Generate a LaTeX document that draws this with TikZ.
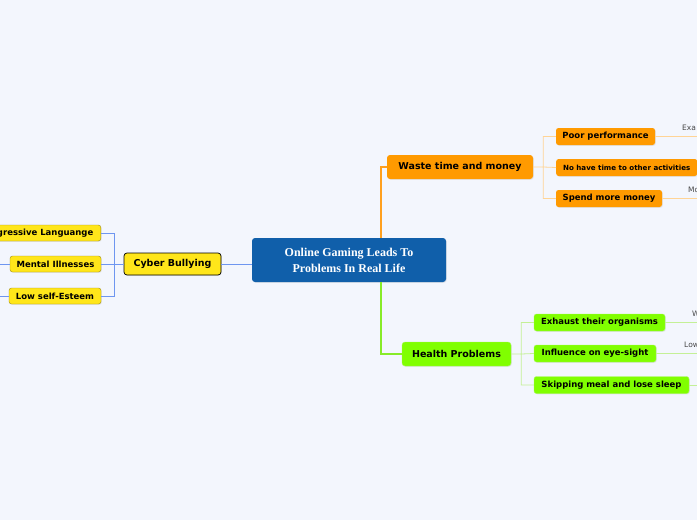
\documentclass[tikz,border=0pt]{standalone}
\usepackage{fontspec}
\setmainfont{DejaVu Sans}
\newfontfamily\titlefont{Liberation Serif}
\usetikzlibrary{calc,positioning,shadows}
\definecolor{PaperBlue}{RGB}{243,246,253}
\definecolor{CoreBlue}{RGB}{16,95,170}
\definecolor{SunYellow}{RGB}{255,230,26}
\definecolor{YellowEdge}{RGB}{160,140,20}
\definecolor{DeepOrange}{RGB}{255,154,0}
\definecolor{StemOrange}{RGB}{255,160,30}
\definecolor{PaleOrange}{RGB}{255,212,150}
\definecolor{LimeGreen}{RGB}{128,255,0}
\definecolor{GrassGreen}{RGB}{135,235,40}
\definecolor{PaleGreen}{RGB}{196,240,150}
\definecolor{LinkBlue}{RGB}{110,150,240}
\definecolor{LeafGrey}{RGB}{70,70,70}

\begin{document}
\begin{tikzpicture}[x=1pt,y=-1pt,
  softshadow/.style={drop shadow={opacity=0.15,shadow xshift=0.8pt,shadow yshift=-0.8pt}},
  topic/.style={rounded corners=3pt,inner sep=0pt,align=center,softshadow,font=\bfseries\fontsize{9.5}{11}\selectfont},
  sub/.style={rounded corners=2.5pt,inner sep=0pt,minimum height=17pt,softshadow,font=\bfseries\fontsize{8.5}{10}\selectfont},
  leaf/.style={inner sep=0pt,text=LeafGrey,font=\fontsize{7.5}{9}\selectfont},
  orangelink/.style={draw=PaleOrange,line width=0.8pt},
  greenlink/.style={draw=PaleGreen,line width=0.8pt},
  bluelink/.style={draw=LinkBlue,line width=0.7pt}]
\useasboundingbox (0,0) rectangle (697,520);
\fill[PaperBlue] (0,0) rectangle (697,520);
\clip (0,0) rectangle (697,520);
% central topic
\node[topic,fill=CoreBlue,text=white,minimum width=194pt,minimum height=44pt,
  font=\titlefont\bfseries\fontsize{12}{16}\selectfont] (centre) at (349,260)
  {Online Gaming Leads To\\Problems In Real Life};
% main branches
\node[topic,fill=DeepOrange,minimum width=146pt,minimum height=24pt] (waste) at (460,167) {Waste time and money};
\node[topic,fill=LimeGreen,draw=PaleGreen!60!LimeGreen,minimum width=109pt,minimum height=24pt] (health) at (456.5,354) {Health Problems};
\node[topic,fill=SunYellow,draw=black,line width=0.7pt,minimum width=97pt,minimum height=22pt] (cyber) at (172.5,264) {Cyber Bullying};
% waste time and money
\node[sub,fill=DeepOrange,minimum width=99pt] (poor) at (605.5,136.5) {Poor performance};
\node[sub,fill=DeepOrange,minimum width=141pt,anchor=west,font=\bfseries\fontsize{7.1}{8}\selectfont] (notime) at (556,167.5) {No have time to other activities};
\node[sub,fill=DeepOrange,minimum width=106pt] (spend) at (609,198.5) {Spend more money};
% health problems
\node[sub,fill=LimeGreen,draw=PaleGreen!60!LimeGreen,minimum width=131pt] (exhaust) at (599.5,322.5) {Exhaust their organisms};
\node[sub,fill=LimeGreen,draw=PaleGreen!60!LimeGreen,minimum width=122pt] (eyesight) at (595,353.5) {Influence on eye-sight};
\node[sub,fill=LimeGreen,draw=PaleGreen!60!LimeGreen,minimum width=155pt] (skipping) at (611.5,385) {Skipping meal and lose sleep};
% cyber bullying
\node[sub,fill=SunYellow,draw=YellowEdge,minimum height=16pt,minimum width=124pt,anchor=east] (aggressive) at (101,233) {Aggressive Languange};
\node[sub,fill=SunYellow,draw=YellowEdge,minimum height=16pt,minimum width=91pt] (mental) at (55.5,264) {Mental Illnesses};
\node[sub,fill=SunYellow,draw=YellowEdge,minimum height=16pt,minimum width=92pt] (esteem) at (55,296) {Low self-Esteem};
% leaves cut by the frame
\node[leaf,anchor=north west] (exa) at (682,125) {Exa};
\node[leaf,anchor=north west] (mo) at (688,187) {Mo};
\node[leaf,anchor=north west] (wleaf) at (692,311) {W};
\node[leaf,anchor=north west] (lowleaf) at (684,342) {Low};
\coordinate (rimA) at (697,136.5);
\coordinate (rimB) at (697,198.5);
\coordinate (rimC) at (697,322.5);
\coordinate (rimD) at (697,353.5);
\coordinate (rimE) at (697,385);
\coordinate (rimF) at (0,264);
\coordinate (rimG) at (0,296);
% connectors
\coordinate (upstem) at ([xshift=32pt]centre.north);
\coordinate (downstem) at ([xshift=32pt]centre.south);
\draw[draw=StemOrange,line width=1.2pt] (upstem) |- (waste.west);
\draw[draw=GrassGreen,line width=1.2pt] (downstem) |- (health.west);
\draw[bluelink] (cyber.east) -- (cyber.east -| centre.west);
\coordinate (wj) at ($(waste.east)+(10,0)$);
\draw[orangelink] (waste.east) -- (wj) (wj) |- (poor.west) (wj) |- (spend.west) (wj) -- (notime.west);
\coordinate (hj) at ($(health.east)+(10,0)$);
\draw[greenlink] (health.east) -- (hj) (hj) |- (exhaust.west) (hj) |- (skipping.west) (hj) -- (eyesight.west);
\coordinate (cj) at ($(cyber.west)+(-9,0)$);
\draw[bluelink] (cyber.west) -- (cj) (cj) |- (aggressive.east) (cj) |- (esteem.east) (cj) -- (mental.east);
\draw[orangelink] (poor.east) -- (rimA) (spend.east) -- (rimB);
\draw[greenlink] (exhaust.east) -- (rimC) (eyesight.east) -- (rimD) (skipping.east) -- (rimE);
\draw[bluelink] (mental.west) -- (rimF) (esteem.west) -- (rimG);
\end{tikzpicture}
\end{document}
